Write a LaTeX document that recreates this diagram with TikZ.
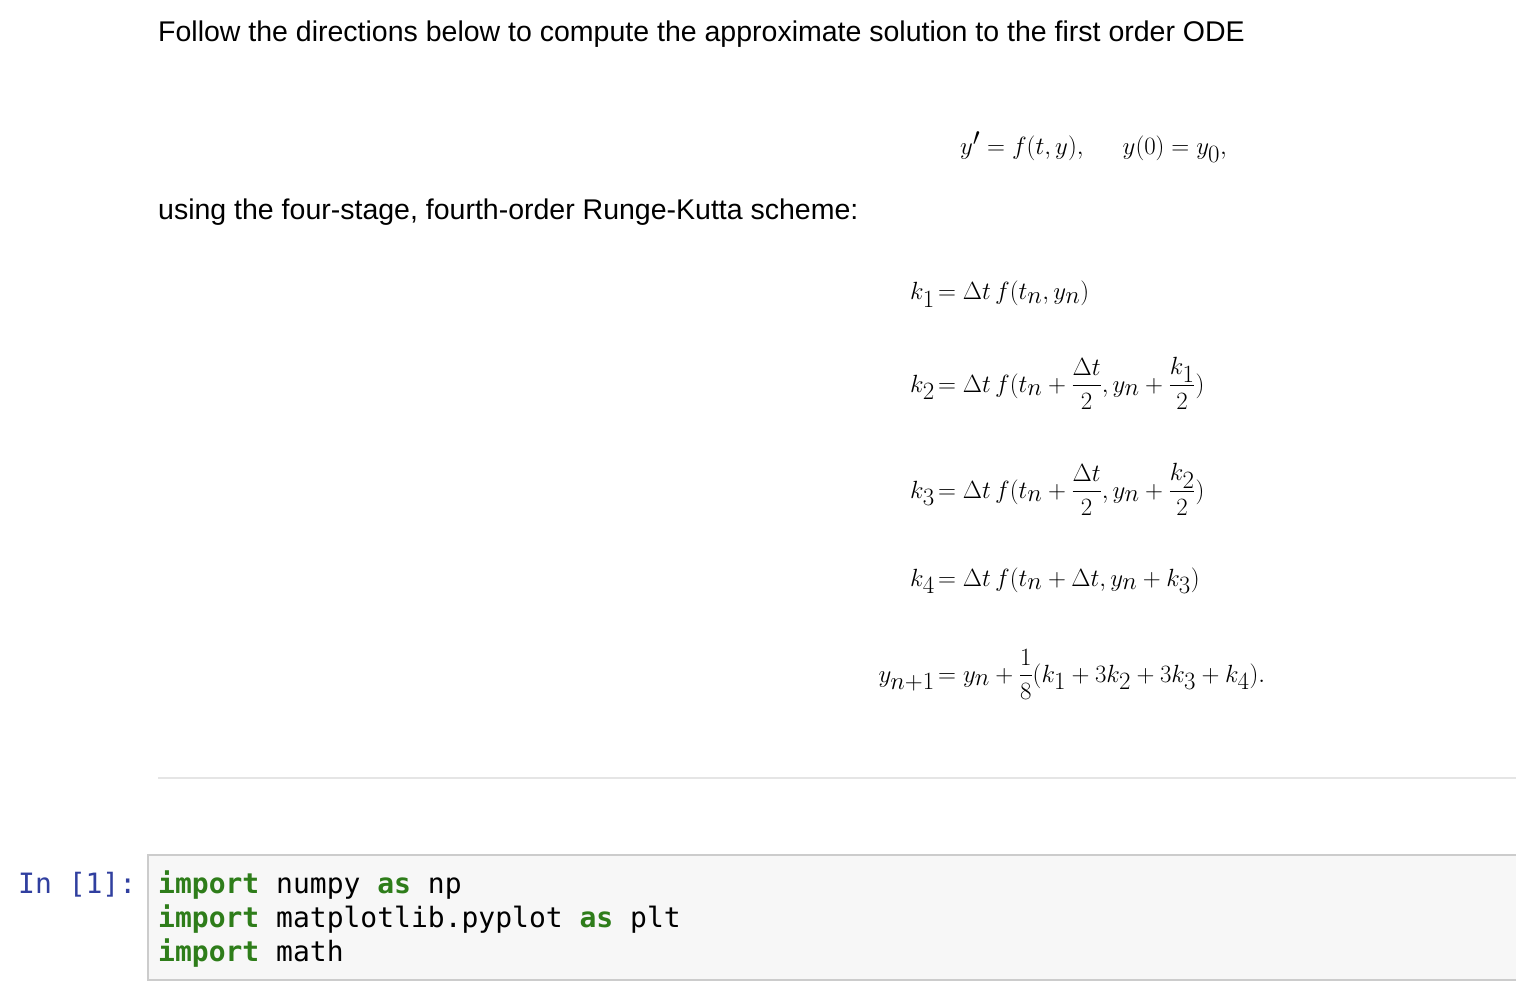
\documentclass[tikz,border=0pt]{standalone}
\usepackage{amsmath}
\usepackage{fontspec}
\setmainfont{Liberation Sans}
\newfontfamily\codefont{DejaVu Sans Mono}
\begin{document}
\begin{tikzpicture}[x=1pt,y=-1pt,
  txt/.style={anchor=base west,inner sep=0pt,font=\fontsize{28.5}{34}\selectfont},
  eq/.style={anchor=base west,inner sep=0pt,font=\fontsize{35}{42}\selectfont},
  code/.style={anchor=base west,inner sep=0pt,font=\codefont\fontsize{28}{34}\selectfont}]
\useasboundingbox[fill=white] (0,0) rectangle (1516,1000);
\definecolor{kw}{HTML}{2E7D1A}
\definecolor{prompt}{HTML}{303F9F}
\node[txt] (t1) at (158,42) {Follow the directions below to compute the approximate solution to the first order ODE};
\node[eq] (ode) at (960,155) {$y' = f(t,y),\quad y(0)=y_0,$};
\node[txt] (t2) at (158,220) {using the four-stage, fourth-order Runge-Kutta scheme:};
\node[eq,anchor=base east] (l1) at (935,300) {$k_1$};
\node[eq] (r1) at (938,300) {$=\Delta t\, f(t_n,y_n)$};
\node[eq,anchor=base east] (l2) at (935,392) {$k_2$};
\node[eq] (r2) at (938,392) {$=\Delta t\, f(t_n+\dfrac{\Delta t}{2},y_n+\dfrac{k_1}{2})$};
\node[eq,anchor=base east] (l3) at (935,498) {$k_3$};
\node[eq] (r3) at (938,498) {$=\Delta t\, f(t_n+\dfrac{\Delta t}{2},y_n+\dfrac{k_2}{2})$};
\node[eq,anchor=base east] (l4) at (935,586) {$k_4$};
\node[eq] (r4) at (938,586) {$=\Delta t\, f(t_n+\Delta t,y_n+k_3)$};
\node[eq,anchor=base east] (l5) at (935,682) {$y_{n+1}$};
\node[eq] (r5) at (938,682) {$=y_n+\dfrac{1}{8}(k_1+3k_2+3k_3+k_4).$};
\draw[color=black!10,line width=1.5] (158,778) -- (1516,778);
\draw[fill=black!3,draw=black!20,line width=1.5] (148,855) rectangle (1520,980);
\node[code,text=prompt] (p) at (18,893) {In [1]:};
\node[code] (c1) at (158,893) {\textcolor{kw}{\bfseries import} numpy \textcolor{kw}{\bfseries as} np};
\node[code] (c2) at (158,927) {\textcolor{kw}{\bfseries import} matplotlib.pyplot \textcolor{kw}{\bfseries as} plt};
\node[code] (c3) at (158,961) {\textcolor{kw}{\bfseries import} math};
\end{tikzpicture}
\end{document}
